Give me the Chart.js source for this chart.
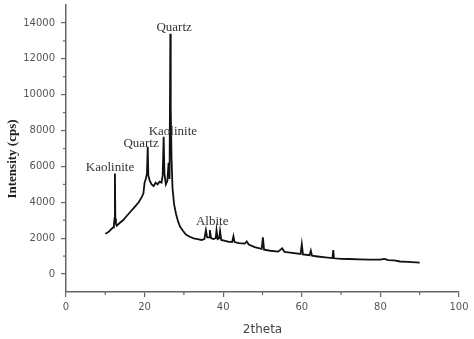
<!DOCTYPE html>
<html>
<head>
<meta charset="utf-8">
<script src="https://cdn.jsdelivr.net/npm/chart.js@4"></script>
<style>
  html, body { margin: 0; padding: 0; background: #fff; }
  #wrap { width: 474px; height: 339px; }
</style>
</head>
<body>
<div id="wrap"><canvas id="xrd"></canvas></div>
<script>
// diffraction pattern
const twoTheta = [10.0, 10.5, 11.0, 11.5, 12.0, 12.2, 12.35, 12.45, 12.55, 12.7, 12.9, 13.5, 14.5, 15.5, 16.5, 17.5, 18.5, 19.3, 19.7, 20.0,
  20.3, 20.6, 20.8, 20.95, 21.3, 21.8, 22.3, 22.8, 23.3, 23.8, 24.3, 24.6, 24.85, 25.05, 25.4, 25.8, 26.1, 26.35, 26.55, 26.62,
  26.68, 26.85, 27.1, 27.5, 28.0, 28.5, 29.0, 29.8, 30.5, 31.5, 32.5, 33.5, 34.5, 35.2, 35.6, 35.9, 36.4, 36.6, 36.9, 37.5, 38.1,
  38.3, 38.6, 39.0, 39.2, 39.5, 40.5, 41.5, 42.3, 42.6, 42.9, 44.0, 45.5, 46.0, 46.5, 48.0, 49.8, 50.1, 50.4, 52.0, 54.0,
  55.0, 55.6, 57.5, 59.7, 60.0, 60.3, 62.0, 62.3, 62.6, 64.0, 66.0, 67.8, 68.0, 68.2, 70.0, 72.0, 74.8, 77.0, 80.0, 81.0,
  82.0, 83.5, 85.0, 87.0, 90.0];
const intensity = [2250, 2300, 2380, 2500, 2600, 2750, 3100, 5600, 3100, 2800, 2700, 2820, 3000, 3250, 3500, 3750, 4000, 4300, 4500, 5100,
  5300, 5600, 7100, 5500, 5200, 5000, 4900, 5100, 5000, 5150, 5100, 5500, 7650, 5600, 5000, 5200, 6200, 5300, 13400, 8200,
  9300, 6500, 4800, 3900, 3350, 2950, 2650, 2400, 2200, 2080, 1990, 1950, 1900, 1950, 2450, 2050, 2050, 2450, 2000, 1950, 2000,
  2450, 1950, 2000, 2400, 1900, 1850, 1800, 1800, 2100, 1780, 1720, 1700, 1820, 1650, 1500, 1400, 2050, 1360, 1300, 1250,
  1430, 1240, 1180, 1120, 1670, 1100, 1050, 1300, 1020, 980, 930, 890, 1340, 880, 850, 840, 820, 810, 800, 850,
  780, 760, 700, 680, 640];

const xTicks = [0, 20, 40, 60, 80, 100];
const xMinor = [10, 30, 50, 70, 90];
const yTicks = [0, 2000, 4000, 6000, 8000, 10000, 12000, 14000];
const yMinor = [1000, 3000, 5000, 7000, 9000, 11000, 13000];

// phase names and where they sit (in 2theta / cps)
const phaseNames = ['Quartz', 'Kaolinite', 'Quartz', 'Kaolinite', 'Albite'];
const phaseX = [27.5, 27.2, 19.1, 11.2, 37.2];
const phaseY = [13720, 7920, 7300, 5910, 2900];

const points = twoTheta.map((t, i) => ({ x: t, y: intensity[i] }));

const axisColor = '#666';
const tickFont = { family: 'DejaVu Sans', size: 10 };

const extras = {
  id: 'extras',
  afterDraw(chart) {
    const ctx = chart.ctx;
    const xs = chart.scales.x;
    const ys = chart.scales.y;
    ctx.save();
    ctx.strokeStyle = axisColor;
    ctx.lineWidth = 1.2;
    // minor ticks
    xMinor.forEach(v => {
      const px = xs.getPixelForValue(v);
      ctx.beginPath();
      ctx.moveTo(px, ys.bottom);
      ctx.lineTo(px, ys.bottom + 3);
      ctx.stroke();
    });
    yMinor.forEach(v => {
      const py = ys.getPixelForValue(v);
      ctx.beginPath();
      ctx.moveTo(xs.left, py);
      ctx.lineTo(xs.left - 3, py);
      ctx.stroke();
    });
    // phase labels
    ctx.fillStyle = '#333';
    ctx.font = '13px "Liberation Serif"';
    ctx.textAlign = 'center';
    ctx.textBaseline = 'middle';
    phaseNames.forEach((name, i) => {
      ctx.fillText(name, xs.getPixelForValue(phaseX[i]), ys.getPixelForValue(phaseY[i]));
    });
    // y axis title, sits a little below the axis middle in the original
    ctx.translate(13, 159);
    ctx.rotate(-Math.PI / 2);
    ctx.fillStyle = '#222';
    ctx.font = 'bold 13px "Liberation Serif"';
    ctx.fillText('Intensity (cps)', 0, 0);
    ctx.restore();
  }
};

new Chart(document.getElementById('xrd'), {
  type: 'line',
  data: {
    datasets: [{
      data: points,
      borderColor: '#111',
      borderWidth: 1.8,
      pointRadius: 0,
      tension: 0,
      fill: false
    }]
  },
  options: {
    responsive: true,
    maintainAspectRatio: false,
    animation: false,
    layout: { padding: { left: 0, right: 15, top: 5, bottom: 0 } },
    plugins: {
      legend: { display: false },
      tooltip: { enabled: false }
    },
    scales: {
      x: {
        type: 'linear',
        min: 0,
        max: 100,
        afterBuildTicks: s => { s.ticks = xTicks.map(v => ({ value: v })); },
        afterFit: s => { s.height = 47; s.paddingLeft = 0; s.paddingRight = 0; },
        grid: { drawOnChartArea: false, tickLength: 5, color: axisColor, lineWidth: 1.2 },
        border: { color: axisColor, width: 1.5 },
        ticks: { color: '#555', font: tickFont, padding: 4, maxRotation: 0, callback: v => String(v) },
        title: { display: true, text: '2theta', color: '#444', font: { family: 'DejaVu Sans', size: 12 }, padding: { top: 0, bottom: 2 } }
      },
      y: {
        min: -1000,
        max: 15000,
        afterBuildTicks: s => { s.ticks = yTicks.map(v => ({ value: v })); },
        afterFit: s => { s.width = 66; s.paddingTop = 0; s.paddingBottom = 0; },
        grid: { drawOnChartArea: false, tickLength: 5, color: axisColor, lineWidth: 1.2 },
        border: { color: axisColor, width: 1.5 },
        ticks: { color: '#555', font: tickFont, padding: 6, callback: v => String(v) }
      }
    }
  },
  plugins: [extras]
});
</script>
</body>
</html>
